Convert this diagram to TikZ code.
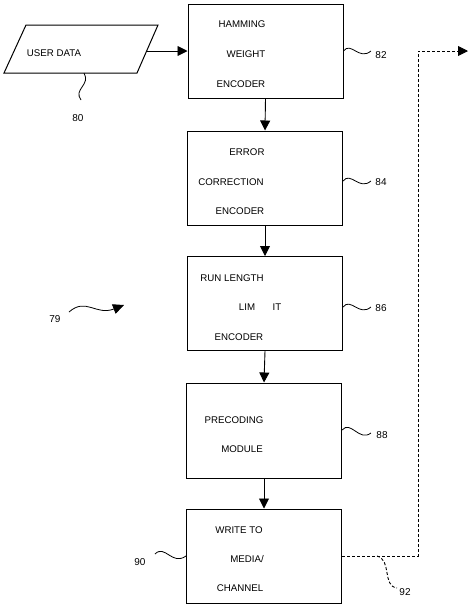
\documentclass[tikz,border=0pt]{standalone}
\usepackage{fontspec}
\setmainfont{Liberation Sans}
\usetikzlibrary{arrows.meta}
\begin{document}
\begin{tikzpicture}[x=1pt,y=-1pt,
  blk/.style={draw,line width=1pt,minimum width=155pt,minimum height=94pt,inner sep=0pt},
  lbl/.style={font=\fontsize{9.7}{10}\selectfont,inner sep=0pt},
  ref/.style={font=\fontsize{10}{11}\selectfont,inner sep=0pt},
  tip/.style={-{Triangle[length=10pt,width=10pt]}},
  arr/.style={line width=0.9pt,tip},
  sq/.style={line width=0.8pt},
  dsh/.style={line width=0.9pt,dash pattern=on 3pt off 2pt}]
\useasboundingbox (0,0) rectangle (474,614);
% parallelogram
\draw[line width=1pt] (26,25) -- (158,25) -- (137,73) -- (4,73) -- cycle;
\node[lbl] (ud) at (54,53) {USER DATA};
\coordinate (udR) at (147,51);
% blocks
\node[blk] (b82) at (265.5,51) {};
\node[blk] (b84) at (265,178) {};
\node[blk] (b86) at (265,303.5) {};
\node[blk,minimum height=95pt] (b88) at (264,430.5) {};
\node[blk] (b90) at (264,556) {};
% texts
\node[lbl] (t1) at (242,24) {HAMMING};
\node[lbl] (t2) at (246,54) {WEIGHT};
\node[lbl] (t3) at (241,84) {ENCODER};
\node[lbl] (t4) at (247,152) {ERROR};
\node[lbl] (t5) at (231,182) {CORRECTION};
\node[lbl] (t6) at (240,211) {ENCODER};
\node[lbl] (t7) at (232,278) {RUN LENGTH};
\node[lbl] (t8a) at (247,307) {LIM};
\node[lbl] (t8b) at (277,307) {IT};
\node[lbl] (t9) at (239,337) {ENCODER};
\node[lbl] (t10) at (234,420) {PRECODING};
\node[lbl] (t11) at (242,449) {MODULE};
\node[lbl] (t12) at (239,530) {WRITE TO};
\node[lbl] (t13) at (247,559) {MEDIA/};
\node[lbl] (t14) at (240,588) {CHANNEL};
% connectors
\draw[arr] (udR) -- (b82.west |- udR);
\draw[arr] (b82.south) -- (b84.north);
\draw[arr] (b84.south) -- (b86.north);
\draw[arr] (b86.south) -- (b88.north);
\draw[arr] (b88.south) -- (b90.north);
\coordinate (c1) at (418,556);
\coordinate (c2) at (418,51);
\coordinate (c3) at (468,51);
\draw[dsh] (b90.east |- c1) -- (c1) -- (c2) -- ([xshift=-9pt]c3);
\draw[line width=0.9pt,tip] ([xshift=-10pt]c3) -- (c3);
% reference labels
\node[ref] (r82) at (381,55) {82};
\node[ref] (r84) at (381,182) {84};
\node[ref] (r86) at (381,308) {86};
\node[ref] (r88) at (382,435) {88};
\node[ref] (r90) at (140,562) {90};
\node[ref] (r80) at (78,118) {80};
\node[ref] (r79) at (55,319) {79};
\node[ref] (r92) at (405,592) {92};
\draw[sq] (b82.east |- 0,51) .. controls (351,41) and (359,61) .. (371,51);
\draw[sq] (b84.east |- 0,181) .. controls (351,171) and (359,191) .. (371,181);
\draw[sq] (b86.east |- 0,307) .. controls (351,297) and (359,317) .. (371,307);
\draw[sq] (b88.east |- 0,430) .. controls (351,420) and (359,442) .. (371,433);
\draw[sq] (155,554) .. controls (165,544) and (172,566) .. (b90.west |- 0,556);
\draw[sq] (84,73) .. controls (91,85) and (73,89) .. (81,100);
\draw[sq,-{Triangle[length=11pt,width=10pt]}] (69,312) .. controls (86,297) and (96,316) .. (124,305);
\draw[dsh] (377,556) .. controls (392,560) and (382,586) .. (397,588);
\end{tikzpicture}
\end{document}
